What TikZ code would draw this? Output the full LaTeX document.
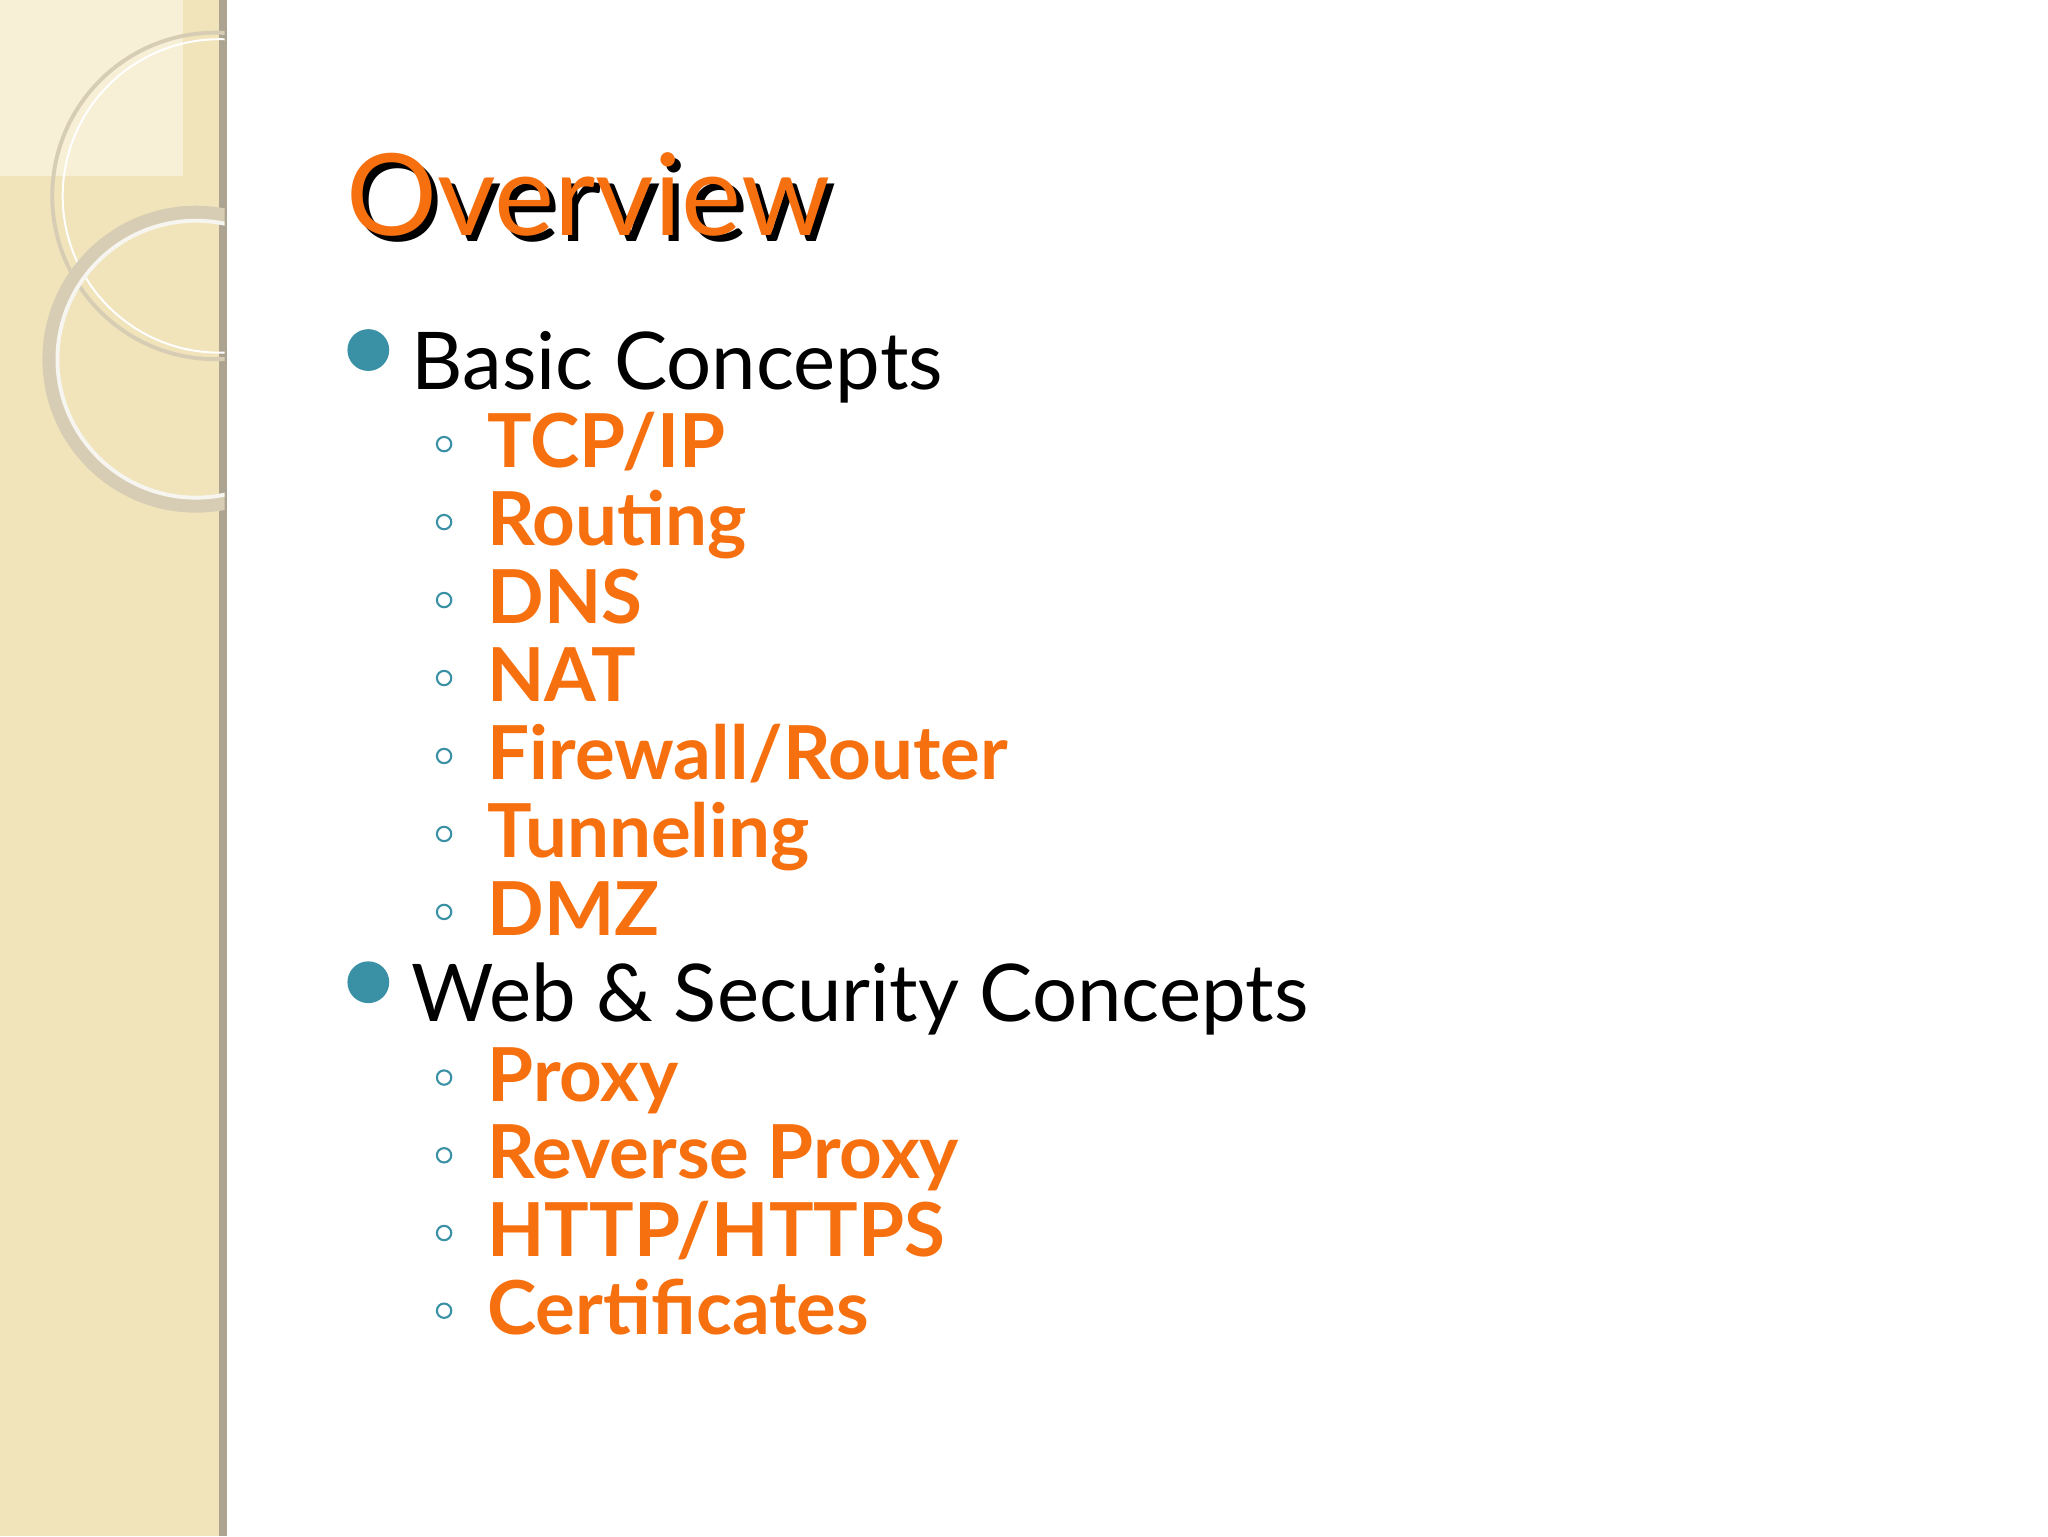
\documentclass[tikz,border=0pt]{standalone}
\usepackage{fontspec}
\setmainfont{Lato}
\definecolor{og}{RGB}{247,112,16}
\definecolor{teal1}{RGB}{58,145,165}
\definecolor{beige}{RGB}{241,228,187}
\definecolor{ringc}{RGB}{215,205,180}
\begin{document}
\begin{tikzpicture}[x=1pt,y=-1pt,
  main/.style={anchor=base west,inner sep=0pt,font=\fontsize{61}{70}\selectfont},
  sub/.style={anchor=base west,inner sep=0pt,text=og,font=\fontsize{57}{62}\selectfont\bfseries},
  bigdot/.style={fill=teal1,draw=none},
  smalldot/.style={draw=teal1,line width=1.6pt,fill=none}]
\useasboundingbox (0,0) rectangle (1568,1176);
\fill[white] (0,0) rectangle (1568,1176);
\fill[beige] (0,0) rectangle (172,1176);
\fill[beige!60!white] (0,0) rectangle (140,135);
\fill[ringc!80!black] (168,0) rectangle (174,1176);
\begin{scope}
\clip (0,0) rectangle (172,1176);
\draw[ringc,line width=3pt] (165,150) circle (125);
\draw[white,line width=1.5pt] (168,150) circle (120);
\draw[ringc,line width=11pt] (150,275) circle (112);
\draw[white!80!ringc,line width=3pt] (150,275) circle (106);
\end{scope}
\node[anchor=base west,inner sep=0pt,font=\fontsize{87}{96}\selectfont,text=black] (tsh) at (270,185) {Overview};
\node[anchor=base west,inner sep=0pt,font=\fontsize{87}{96}\selectfont,text=og] (title) at (265,180) {Overview};
\fill[bigdot] (282,268) circle (16);
\node[main] (b1) at (315,298) {Basic Concepts};
\foreach \t [count=\i] in {TCP/IP,Routing,DNS,NAT,Firewall/Router,Tunneling,DMZ}{
  \draw[smalldot] (340,{340+(\i-1)*59.7}) circle (5.5);
  \node[sub] (s\i) at (373,{358+(\i-1)*59.7}) {\t};
}
\fill[bigdot] (282,752) circle (16);
\node[main] (b2) at (315,782) {Web \& Security Concepts};
\foreach \t [count=\i] in {Proxy,Reverse Proxy,HTTP/HTTPS,Certificates}{
  \draw[smalldot] (340,{825+(\i-1)*59.5}) circle (5.5);
  \node[sub] (w\i) at (373,{843+(\i-1)*59.5}) {\t};
}
\end{tikzpicture}
\end{document}
